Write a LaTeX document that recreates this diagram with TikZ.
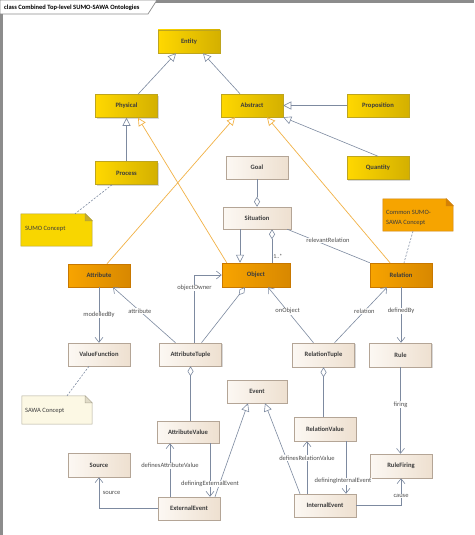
\documentclass[tikz,border=0pt]{standalone}
\usepackage{fontspec}
\setmainfont{Carlito}
\usetikzlibrary{arrows.meta,shadows}
\definecolor{edgegray}{RGB}{125,138,160}
\definecolor{orline}{RGB}{242,178,70}
\definecolor{txt}{RGB}{60,60,60}
\definecolor{lbl}{RGB}{80,80,80}
\definecolor{frame}{RGB}{140,140,140}
\definecolor{sumoL}{RGB}{255,216,0}
\definecolor{sumoR}{RGB}{212,176,0}
\definecolor{sumoD}{RGB}{190,165,30}
\definecolor{comL}{RGB}{248,164,0}
\definecolor{comR}{RGB}{216,136,0}
\definecolor{comD}{RGB}{200,120,0}
\definecolor{sawaL}{RGB}{252,248,243}
\definecolor{sawaR}{RGB}{238,224,208}
\definecolor{sawaD}{RGB}{180,165,150}
\definecolor{nsumoF}{RGB}{248,214,0}
\definecolor{nsumoD}{RGB}{175,160,60}
\definecolor{nsumoK}{RGB}{200,175,40}
\definecolor{ncomF}{RGB}{246,164,0}
\definecolor{ncomD}{RGB}{205,130,20}
\definecolor{ncomK}{RGB}{215,130,0}
\definecolor{nsawaF}{RGB}{252,248,228}
\definecolor{nsawaD}{RGB}{175,170,150}
\definecolor{nsawaK}{RGB}{225,220,200}
\tikzset{
  x=1pt, y=-1pt,
  box/.style={rectangle, minimum width=62pt, minimum height=23pt, inner sep=0pt,
    font=\fontsize{6.6}{7}\selectfont\bfseries, text=txt, line width=0.5pt,
    drop shadow={shadow xshift=1.3pt, shadow yshift=-1.3pt, opacity=0.3, fill=gray}},
  sumo/.style={box, draw=sumoD, left color=sumoL, right color=sumoR},
  common/.style={box, draw=comD, left color=comL, right color=comR},
  sawa/.style={box, draw=sawaD, left color=sawaL, right color=sawaR},
  notebox/.style={rectangle, inner sep=0pt, draw=none, font=\fontsize{6.5}{10}\selectfont, text=txt, align=left},
  gen/.style={draw=edgegray, line width=0.6pt, -{Triangle[open,length=8pt,width=8pt,fill=white]}},
  ogen/.style={draw=orline, line width=0.7pt, -{Triangle[open,length=8pt,width=8pt,fill=white]}},
  assoc/.style={draw=edgegray, line width=0.6pt, -{Straight Barb[length=5pt,width=8pt]}},
  plain/.style={draw=edgegray, line width=0.6pt},
  agg/.style={draw=edgegray, line width=0.6pt, {Diamond[open,length=10pt,width=6pt,fill=white]}-},
  aggend/.style={draw=edgegray, line width=0.6pt, -{Diamond[open,length=10pt,width=6pt,fill=white]}},
  notelink/.style={draw=edgegray, line width=0.6pt, dash pattern=on 2pt off 1.5pt},
  lab/.style={font=\fontsize{6.5}{7}\selectfont, text=lbl, fill=white, inner sep=0.6pt},
}
\begin{document}
\begin{tikzpicture}
\useasboundingbox (0,0) rectangle (474,535);
\fill[white] (0,0) rectangle (474,535);
% frame
\draw[frame, line width=2.6pt] (1.3,535) -- (1.3,1.3) -- (474,1.3);
\draw[frame, line width=0.7pt, fill=white] (0,0) -- (157,0) -- (148,14) -- (0,14) -- cycle;
\node[anchor=west, font=\fontsize{6.5}{7}\selectfont\bfseries, text=black, inner sep=0pt] (title) at (4,7.5) {class Combined Top-level SUMO-SAWA Ontologies};

% SUMO nodes
\node[sumo] (Entity) at (189,41.5) {Entity};
\node[sumo] (Physical) at (126.5,106) {Physical};
\node[sumo] (Abstract) at (252,105.5) {Abstract};
\node[sumo] (Proposition) at (378,105.5) {Proposition};
\node[sumo] (Process) at (126.5,173) {Process};
\node[sumo] (Quantity) at (378,168) {Quantity};
% common nodes
\node[common] (Attribute) at (99,275.5) {Attribute};
\node[common, minimum width=68pt, minimum height=24pt] (Object) at (256,275) {Object};
\node[common, minimum height=24pt] (Relation) at (401,275) {Relation};
% SAWA nodes
\node[sawa] (Goal) at (257,167.5) {Goal};
\node[sawa, minimum width=68pt, minimum height=22pt] (Situation) at (257,218) {Situation};
\node[sawa] (ValueFunction) at (99,354.5) {ValueFunction};
\node[sawa] (AttributeTuple) at (190.5,354.5) {AttributeTuple};
\node[sawa, minimum height=24pt] (RelationTuple) at (323.5,355) {RelationTuple};
\node[sawa, minimum height=24pt] (Rule) at (400.5,355) {Rule};
\node[sawa, minimum width=60pt] (Event) at (257,391.5) {Event};
\node[sawa, minimum height=22pt] (AttributeValue) at (188,432) {AttributeValue};
\node[sawa, minimum height=24pt] (RelationValue) at (325,429) {RelationValue};
\node[sawa, minimum height=24pt] (Source) at (99,465) {Source};
\node[sawa] (ExternalEvent) at (189,508.5) {ExternalEvent};
\node[sawa] (InternalEvent) at (325,505.5) {InternalEvent};
\node[sawa, minimum height=24pt] (RuleFiring) at (401,466) {RuleFiring};

% notes
\node[notebox, minimum width=71pt, minimum height=32pt] (sumonote) at (56.5,230) {};
\fill[nsumoF] (sumonote.north west) -- ([xshift=-7pt]sumonote.north east) -- ([yshift=-7pt]sumonote.north east) -- (sumonote.south east) -- (sumonote.south west) -- cycle;
\draw[nsumoD, line width=0.5pt] (sumonote.north west) -- ([xshift=-7pt]sumonote.north east) -- ([yshift=-7pt]sumonote.north east) -- (sumonote.south east) -- (sumonote.south west) -- cycle;
\draw[nsumoD, line width=0.5pt, fill=nsumoK] ([xshift=-7pt]sumonote.north east) -- ([xshift=-7pt,yshift=-7pt]sumonote.north east) -- ([yshift=-7pt]sumonote.north east) -- cycle;
\node[notebox, anchor=west] (sumotext) at (25,229) {SUMO Concept};

\node[notebox, minimum width=70pt, minimum height=32pt] (commonnote) at (418,215) {};
\fill[ncomF] (commonnote.north west) -- ([xshift=-7pt]commonnote.north east) -- ([yshift=-7pt]commonnote.north east) -- (commonnote.south east) -- (commonnote.south west) -- cycle;
\draw[ncomD, line width=0.5pt] (commonnote.north west) -- ([xshift=-7pt]commonnote.north east) -- ([yshift=-7pt]commonnote.north east) -- (commonnote.south east) -- (commonnote.south west) -- cycle;
\draw[ncomD, line width=0.5pt, fill=ncomK] ([xshift=-7pt]commonnote.north east) -- ([xshift=-7pt,yshift=-7pt]commonnote.north east) -- ([yshift=-7pt]commonnote.north east) -- cycle;
\node[notebox, anchor=west] (commontext) at (386,218) {Common SUMO-\\SAWA Concept};

\node[notebox, minimum width=70pt, minimum height=28pt] (sawanote) at (57,410) {};
\fill[nsawaF] (sawanote.north west) -- ([xshift=-7pt]sawanote.north east) -- ([yshift=-7pt]sawanote.north east) -- (sawanote.south east) -- (sawanote.south west) -- cycle;
\draw[nsawaD, line width=0.5pt] (sawanote.north west) -- ([xshift=-7pt]sawanote.north east) -- ([yshift=-7pt]sawanote.north east) -- (sawanote.south east) -- (sawanote.south west) -- cycle;
\draw[nsawaD, line width=0.5pt, fill=nsawaK] ([xshift=-7pt]sawanote.north east) -- ([xshift=-7pt,yshift=-7pt]sawanote.north east) -- ([yshift=-7pt]sawanote.north east) -- cycle;
\node[notebox, anchor=west] (sawatext) at (25,411) {SAWA Concept};

% note links
\draw[notelink] ([xshift=-14.5pt]Process.south) -- ([xshift=18.5pt]sumonote.north);
\draw[notelink] ([xshift=-5pt]commonnote.south) -- ([xshift=3pt]Relation.north);
\draw[notelink] ([xshift=-10pt]ValueFunction.south) -- ([xshift=10pt]sawanote.north);

% generalizations (gray)
\draw[gen] ([xshift=11.5pt]Physical.north) -- ([xshift=-13pt]Entity.south);
\draw[gen] ([xshift=-12pt]Abstract.north) -- ([xshift=14pt]Entity.south);
\draw[gen] (Proposition.west) -- (Abstract.east);
\draw[gen] (Quantity.north) -- (Abstract.south east);
\draw[gen] (Process.north) -- (Physical.south);
\draw[gen] ([xshift=-17pt]Situation.south) -- ([xshift=-16pt]Object.north);
\draw[gen] ([xshift=26pt]ExternalEvent.north) -- ([xshift=-9pt]Event.south);
\draw[gen] ([xshift=-25pt]InternalEvent.north) -- ([xshift=8pt]Event.south);

% generalizations (orange)
\draw[ogen] ([xshift=5pt]Object.north west) -- ([xshift=11.5pt]Physical.south);
\draw[ogen] ([xshift=8pt]Attribute.north) -- ([xshift=-17pt]Abstract.south);
\draw[ogen] ([xshift=-11pt]Relation.north) -- ([xshift=15pt]Abstract.south);

% aggregations
\draw[aggend] (Goal.south) -- (Situation.north);
\draw[agg] ([xshift=15pt]Situation.south) -- ([xshift=16pt]Object.north) node[pos=0.82, right, font=\fontsize{6}{6}\selectfont, text=lbl, inner sep=1pt] (mult) {1..*};
\draw[aggend] ([xshift=11pt]AttributeTuple.north) -- ([xshift=-11pt]Object.south);
\draw[agg] (AttributeTuple.south) -- (AttributeTuple.south |- AttributeValue.north);
\draw[agg] (RelationTuple.south) -- (RelationTuple.south |- RelationValue.north);

% associations
\draw[plain] ([xshift=-4pt]Situation.south east) -- (Relation.north west);
\node[lab] (lrel) at (328,240.5) {relevantRelation};
\draw[assoc] (Attribute.south) -- node[lab] (lmod) {modelledBy} (ValueFunction.north);
\draw[assoc] ([xshift=-15pt]AttributeTuple.north) -- node[lab, pos=0.57] (lattr) {attribute} ([xshift=14pt]Attribute.south);
\draw[assoc] ([xshift=4pt]AttributeTuple.north) |- (Object.west);
\node[lab] (lown) at (194.5,288) {objectOwner};
\draw[assoc] ([xshift=-10pt]RelationTuple.north) -- node[lab, pos=0.57] (lonobj) {onObject} ([xshift=12pt]Object.south);
\draw[assoc] ([xshift=11pt]RelationTuple.north) -- node[lab, pos=0.57] (lrelation) {relation} ([xshift=-14pt]Relation.south);
\draw[assoc] (Relation.south) -- node[lab, pos=0.43] (ldef) {definedBy} (Relation.south |- Rule.north);
\draw[assoc] (Rule.south) -- node[lab, pos=0.43] (lfiring) {firing} (Rule.south |- RuleFiring.north);
\draw[assoc] ([xshift=-19pt]ExternalEvent.north) -- node[lab, pos=0.58] (ldav) {definesAttributeValue} ([xshift=-19pt]ExternalEvent.north |- AttributeValue.south);
\draw[assoc] ([xshift=22pt]AttributeValue.south) -- node[lab, pos=0.76] (ldee) {definingExternalEvent} ([xshift=22pt]AttributeValue.south |- ExternalEvent.north);
\draw[assoc] (ExternalEvent.west) -| (Source.south);
\node[lab, anchor=west] (lsource) at (102,493) {source};
\draw[assoc] ([xshift=-18pt]InternalEvent.north) -- node[lab, pos=0.68] (ldrv) {definesRelationValue} ([xshift=-18pt]InternalEvent.north |- RelationValue.south);
\draw[assoc] ([xshift=21pt]RelationValue.south) -- node[lab, pos=0.76, xshift=-3pt] (ldie) {definingInternalEvent} ([xshift=21pt]RelationValue.south |- InternalEvent.north);
\draw[assoc] (InternalEvent.east) -| (RuleFiring.south);
\node[lab] (lcause) at (401,496) {cause};
\end{tikzpicture}
\end{document}
